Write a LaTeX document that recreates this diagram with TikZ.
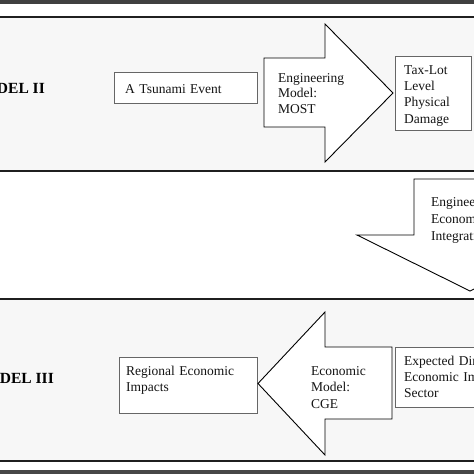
\documentclass[tikz,border=0pt]{standalone}
\usepackage{fontspec}
\setmainfont{Liberation Serif}
\begin{document}
\begin{tikzpicture}[x=1pt,y=-1pt,
  panelline/.style={line width=1.8pt,draw=black!88},
  blockarrow/.style={draw=black,line width=0.9pt,fill=white,line join=miter},
  boxnode/.style={draw=black!60,line width=0.8pt,fill=white,inner sep=0pt},
  txt/.style={anchor=base west,inner sep=0pt,align=left,text=black!92,
    font=\fontsize{13.5}{16}\selectfont},
  lbl/.style={anchor=base east,inner sep=0pt,text=black,
    font=\fontsize{15.5}{18}\selectfont\bfseries}]
\useasboundingbox (0,0) rectangle (474,474);
\begin{scope}
\clip (0,0) rectangle (474,474);
% bands and panels
\fill[black!75] (0,0) rectangle (474,3.5);
\fill[black!72] (0,469.5) rectangle (474,474);
\fill[black!3] (0,17) rectangle (474,171);
\fill[white] (0,171) rectangle (474,299);
\fill[black!3] (0,299) rectangle (474,461);
\draw[panelline] (0,17) -- (474,17);
\draw[panelline] (0,171) -- (474,171);
\draw[panelline] (0,299) -- (474,299);
\draw[panelline] (0,461) -- (474,461);
% panel 1
\node[lbl] (m2) at (45,93) {MODEL II};
\node[boxnode,minimum width=143pt,minimum height=31pt] (tsunami) at (185.5,87.5) {};
\node[txt,text width=130pt] (tsunamit) at (125,93) {A Tsunami Event};
\draw[blockarrow] (264,58) -- (325,58) -- (325,24) -- (393,93) -- (325,162) -- (325,127) -- (264,127) -- cycle;
\node[txt,text width=80pt,font=\fontsize{13.5}{15.5}\selectfont] (most) at (278,82) {Engineering\\Model:\\MOST};
\node[boxnode,minimum width=76pt,minimum height=74pt] (taxlot) at (433,93) {};
\node[txt,text width=70pt,font=\fontsize{13.5}{16.4}\selectfont] (taxlott) at (404,74) {Tax-Lot\\Level\\Physical\\Damage};
% panel 2
\draw[blockarrow] (414,179) -- (414,235) -- (357,235) -- (470,291) -- (583,235) -- (526,235) -- (526,179) -- cycle;
\node[txt,text width=110pt,font=\fontsize{13.5}{17}\selectfont] (integ) at (431,206) {Engineering-\\Economic\\Integration};
% panel 3
\node[lbl] (m3) at (54,383) {MODEL III};
\node[boxnode,minimum width=138pt,minimum height=56pt] (regional) at (188,385) {};
\node[txt,text width=130pt] (regionalt) at (126,375) {Regional Economic\\Impacts};
\draw[blockarrow] (392,347) -- (325,347) -- (325,312) -- (258,383.5) -- (325,455) -- (325,419) -- (392,419) -- cycle;
\node[txt,text width=80pt,font=\fontsize{13.5}{16.5}\selectfont] (cge) at (311,375) {Economic\\Model:\\CGE};
\node[boxnode,minimum width=100pt,minimum height=60pt] (expected) at (445,377) {};
\node[txt,text width=130pt] (expectedt) at (404,365) {Expected Direct\\Economic Impacts by\\Sector};
\end{scope}
\end{tikzpicture}
\end{document}
